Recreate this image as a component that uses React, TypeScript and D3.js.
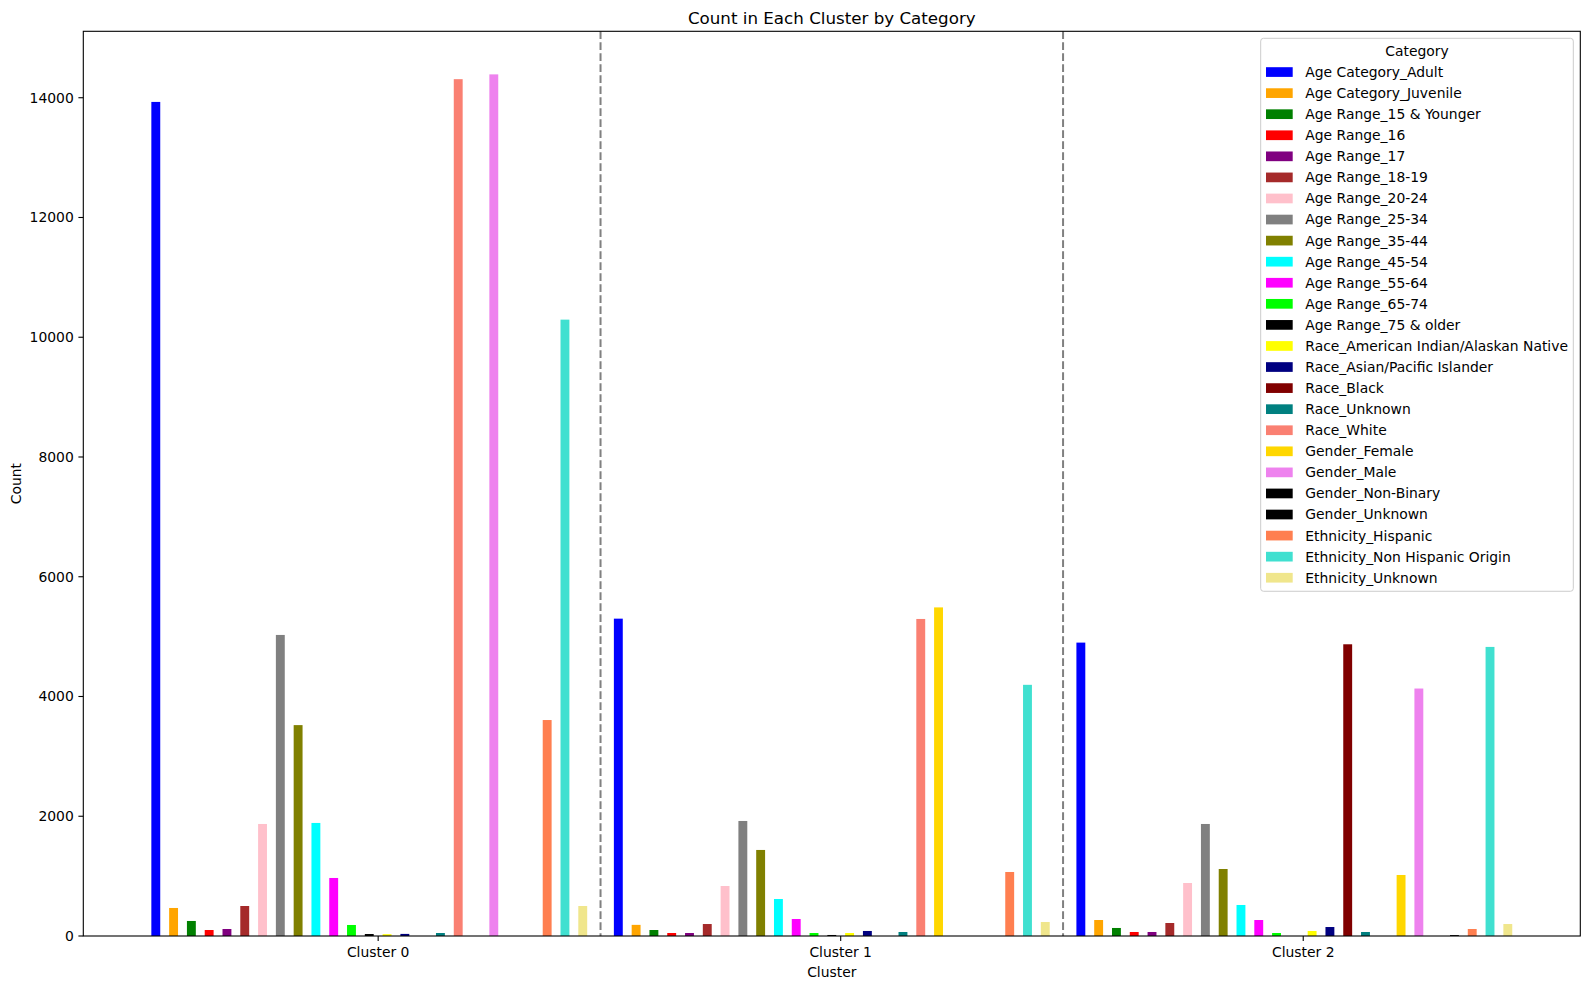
import React from "react";
import * as d3 from "d3";

const clusters = ["Cluster 0", "Cluster 1", "Cluster 2"];

const categories = [
  "Age Category_Adult",
  "Age Category_Juvenile",
  "Age Range_15 & Younger",
  "Age Range_16",
  "Age Range_17",
  "Age Range_18-19",
  "Age Range_20-24",
  "Age Range_25-34",
  "Age Range_35-44",
  "Age Range_45-54",
  "Age Range_55-64",
  "Age Range_65-74",
  "Age Range_75 & older",
  "Race_American Indian/Alaskan Native",
  "Race_Asian/Pacific Islander",
  "Race_Black",
  "Race_Unknown",
  "Race_White",
  "Gender_Female",
  "Gender_Male",
  "Gender_Non-Binary",
  "Gender_Unknown",
  "Ethnicity_Hispanic",
  "Ethnicity_Non Hispanic Origin",
  "Ethnicity_Unknown",
];

const colors = [
  "blue", "orange", "green", "red", "purple", "brown", "pink", "gray", "olive",
  "cyan", "magenta", "lime", "black", "yellow", "navy", "maroon", "teal",
  "salmon", "gold", "violet", "black", "black", "coral", "turquoise", "khaki",
];

const cluster0 = [13930, 468, 251, 100, 117, 501, 1871, 5028, 3522, 1888, 969, 184, 33, 30, 35, 0, 50, 14310, 0, 14390, 0, 0, 3607, 10294, 501];
const cluster1 = [5300, 186, 100, 50, 50, 200, 835, 1921, 1437, 618, 284, 50, 17, 50, 84, 0, 67, 5295, 5488, 0, 0, 0, 1069, 4195, 234];
const cluster2 = [4900, 267, 134, 67, 67, 217, 885, 1871, 1119, 518, 267, 50, 0, 84, 150, 4872, 67, 0, 1019, 4133, 0, 15, 117, 4828, 200];

const clusterValues = [cluster0, cluster1, cluster2];
const yTicks = [0, 2000, 4000, 6000, 8000, 10000, 12000, 14000];

const W = 1589;
const H = 989;
const m = { left: 83.3, right: 1580.3, top: 31.3, bottom: 936 };
const FONT = "DejaVu Sans, sans-serif";
const FS = 13.9;

export default function App() {
  const n = categories.length;
  const step = 1 / (n + 1);
  const barW = step / 2;
  const offsets = categories.map((_, i) => (i - n / 2) * step);
  const xMinData = offsets[0] - barW / 2;
  const xMaxData = clusters.length - 1 + offsets[n - 1] + barW / 2;
  const pad = (xMaxData - xMinData) * 0.05;
  const x = d3.scaleLinear().domain([xMinData - pad, xMaxData + pad]).range([m.left, m.right]);
  const maxV = d3.max(clusterValues.flat()) as number;
  const y = d3.scaleLinear().domain([0, maxV * 1.05]).range([m.bottom, m.top]);

  const legendLeft = 1260.7;
  const legendRight = m.right - 7;
  const legendTop = m.top + 7;
  const rowStep = 21.07;
  const firstRow = 72.1;
  const legendBottom = firstRow + rowStep * (n - 1) + 13.5;

  return (
    <svg width={W} height={H} style={{ position: "absolute", left: 0, top: 0, background: "white" }} fontFamily={FONT}>
      <rect x={0} y={0} width={W} height={H} fill="white" />
      {/* bars */}
      {clusterValues.map((vals, ci) =>
        vals.map((v, i) => (
          <rect
            key={`${ci}-${i}`}
            x={x(ci + offsets[i] - barW / 2)}
            y={y(v)}
            width={x(ci + offsets[i] + barW / 2) - x(ci + offsets[i] - barW / 2)}
            height={m.bottom - y(v)}
            fill={colors[i]}
          />
        ))
      )}
      {/* separators */}
      {clusters.slice(0, -1).map((_, ci) => (
        <line
          key={`sep${ci}`}
          x1={x(ci + 0.5 - step / 2)}
          x2={x(ci + 0.5 - step / 2)}
          y1={m.top}
          y2={m.bottom}
          stroke="gray"
          strokeWidth={2}
          strokeDasharray="7.7 3.3"
        />
      ))}
      {/* axes frame */}
      <rect x={m.left} y={m.top} width={m.right - m.left} height={m.bottom - m.top} fill="none" stroke="black" strokeWidth={1.1} />
      {/* y ticks */}
      {yTicks.map((t) => (
        <g key={`yt${t}`}>
          <line x1={m.left - 4.9} x2={m.left} y1={y(t)} y2={y(t)} stroke="black" strokeWidth={1.1} />
          <text x={m.left - 9.5} y={y(t)} dy="0.35em" textAnchor="end" fontSize={FS} fill="black">
            {t}
          </text>
        </g>
      ))}
      {/* x ticks */}
      {clusters.map((c, ci) => (
        <g key={`xt${ci}`}>
          <line x1={x(ci)} x2={x(ci)} y1={m.bottom} y2={m.bottom + 4.9} stroke="black" strokeWidth={1.1} />
          <text x={x(ci)} y={956.7} textAnchor="middle" fontSize={FS} fill="black">
            {c}
          </text>
        </g>
      ))}
      {/* labels */}
      <text x={(m.left + m.right) / 2} y={977} textAnchor="middle" fontSize={FS} fill="black">
        Cluster
      </text>
      <text
        transform={`translate(${21},${(m.top + m.bottom) / 2}) rotate(-90)`}
        textAnchor="middle"
        fontSize={FS}
        fill="black"
      >
        Count
      </text>
      <text x={(m.left + m.right) / 2} y={24} textAnchor="middle" fontSize={16.7} fill="black">
        Count in Each Cluster by Category
      </text>
      {/* legend */}
      <rect
        x={legendLeft}
        y={legendTop}
        width={legendRight - legendLeft}
        height={legendBottom - legendTop}
        rx={2.8}
        fill="white"
        fillOpacity={0.8}
        stroke="#cccccc"
        strokeWidth={1}
      />
      <text x={(legendLeft + legendRight) / 2} y={51.4} dy="0.35em" textAnchor="middle" fontSize={FS} fill="black">
        Category
      </text>
      {categories.map((c, i) => {
        const cy = firstRow + i * rowStep;
        return (
          <g key={`lg${i}`}>
            <rect x={1266} y={cy - 4.9} width={26.7} height={9.7} fill={colors[i]} />
            <text x={1305.3} y={cy} dy="0.35em" fontSize={FS} fill="black">
              {c}
            </text>
          </g>
        );
      })}
    </svg>
  );
}
